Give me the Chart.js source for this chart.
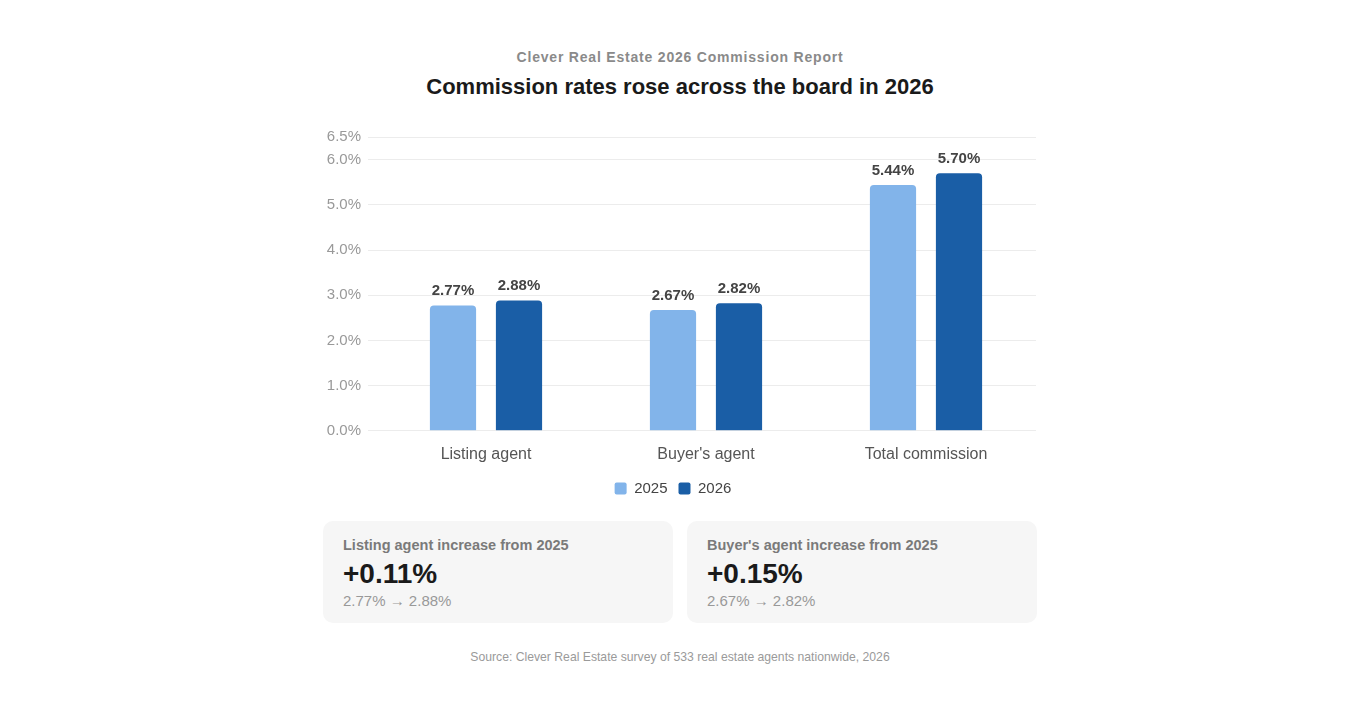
<!DOCTYPE html>
<html>
<head>
<meta charset="utf-8">
<script src="https://cdn.jsdelivr.net/npm/chart.js@4.4.1/dist/chart.umd.min.js"></script>
<style>
  body { margin: 0; background: #fff; font-family: "Liberation Sans", Arial, sans-serif; }
  .page { position: relative; width: 1360px; height: 712px; }
  .kicker { position: absolute; top: 49px; left: 0; width: 1360px; text-align: center;
    font-size: 14px; font-weight: bold; color: #8a8a8a; letter-spacing: 0.8px; }
  .title { position: absolute; top: 74px; left: 0; width: 1360px; text-align: center;
    font-size: 22px; font-weight: bold; color: #1a1a1a; }
  .chartBox { position: absolute; left: 310px; top: 120px; width: 740px; height: 389px; }
  .card { position: absolute; top: 521px; width: 350px; height: 102px; background: #f6f6f6;
    border-radius: 10px; box-sizing: border-box; padding: 16px 20px; }
  .card .lbl { font-size: 14.5px; font-weight: bold; color: #7a7a7a; }
  .card .big { font-size: 28px; font-weight: bold; color: #1a1a1a; margin-top: 5px; }
  .card .sub { font-size: 15px; color: #999; margin-top: 2px; }
  .source { position: absolute; top: 650px; left: 0; width: 1360px; text-align: center;
    font-size: 12.2px; color: #9a9a9a; }
</style>
</head>
<body>
<div class="page">
  <div class="kicker">Clever Real Estate 2026 Commission Report</div>
  <div class="title">Commission rates rose across the board in 2026</div>
  <div class="chartBox"><canvas id="commissionChart"></canvas></div>
  <div class="card" style="left:323px">
    <div class="lbl">Listing agent increase from 2025</div>
    <div class="big">+0.11%</div>
    <div class="sub">2.77% → 2.88%</div>
  </div>
  <div class="card" style="left:687px">
    <div class="lbl">Buyer's agent increase from 2025</div>
    <div class="big">+0.15%</div>
    <div class="sub">2.67% → 2.82%</div>
  </div>
  <div class="source">Source: Clever Real Estate survey of 533 real estate agents nationwide, 2026</div>
</div>
<script>
  const categories = ['Listing agent', "Buyer's agent", 'Total commission'];
  const rates2025 = [2.77, 2.67, 5.44];
  const rates2026 = [2.88, 2.82, 5.70];
  const seriesLabels = ['2025', '2026'];

  // draws the value above each bar
  const valueLabels = {
    id: 'valueLabels',
    afterDatasetsDraw(chart) {
      const ctx = chart.ctx;
      ctx.save();
      ctx.font = 'bold 15px "Liberation Sans", Arial, sans-serif';
      ctx.fillStyle = '#444';
      ctx.textAlign = 'center';
      ctx.textBaseline = 'bottom';
      chart.data.datasets.forEach(function(ds, i) {
        chart.getDatasetMeta(i).data.forEach(function(bar, j) {
          ctx.fillText(ds.data[j].toFixed(2) + '%', bar.x, bar.y - 7);
        });
      });
      ctx.restore();
    }
  };

  new Chart(document.getElementById('commissionChart'), {
    type: 'bar',
    data: {
      labels: categories,
      datasets: [
        {
          label: seriesLabels[0],
          data: rates2025,
          backgroundColor: '#82b4ea',
          borderRadius: 4,
          borderSkipped: 'bottom',
          categoryPercentage: 0.6,
          barPercentage: 0.7
        },
        {
          label: seriesLabels[1],
          data: rates2026,
          backgroundColor: '#1a5ea6',
          borderRadius: 4,
          borderSkipped: 'bottom',
          categoryPercentage: 0.6,
          barPercentage: 0.7
        }
      ]
    },
    options: {
      responsive: true,
      maintainAspectRatio: false,
      animation: false,
      layout: { padding: { top: 17, right: 14, bottom: 3, left: 0 } },
      plugins: {
        legend: {
          position: 'bottom',
          labels: {
            boxWidth: 12,
            boxHeight: 12,
            useBorderRadius: true,
            borderRadius: 2,
            color: '#444',
            padding: 11,
            font: { size: 15, family: '"Liberation Sans", Arial, sans-serif' }
          }
        },
        tooltip: { enabled: false }
      },
      scales: {
        x: {
          grid: { display: false },
          border: { display: false },
          ticks: { color: '#555', padding: 6, font: { size: 16, family: '"Liberation Sans", Arial, sans-serif' } }
        },
        y: {
          min: 0,
          max: 6.5,
          afterFit: function(scale) { scale.width = 66; },
          grid: { color: '#ececec' },
          border: { display: false },
          ticks: {
            stepSize: 1,
            padding: 7,
            color: '#999',
            font: { size: 15, family: '"Liberation Sans", Arial, sans-serif' },
            callback: function(v) { return v.toFixed(1) + '%'; }
          }
        }
      }
    },
    plugins: [valueLabels]
  });
</script>
</body>
</html>
